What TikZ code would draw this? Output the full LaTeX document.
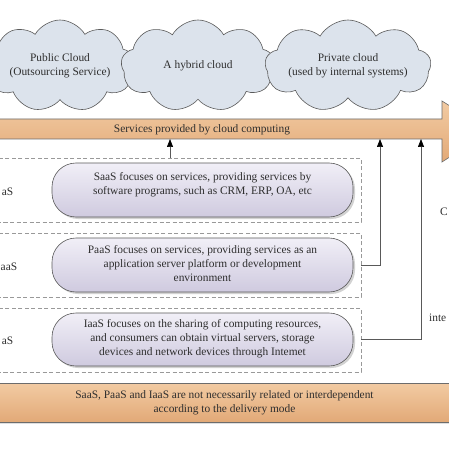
\documentclass[tikz,border=0pt]{standalone}
\usepackage{fontspec}
\setmainfont{Liberation Serif}
\usetikzlibrary{shapes.symbols,shadows,arrows.meta}
\definecolor{cloudfill}{HTML}{DCE3EC}
\definecolor{edgegray}{HTML}{5A5A5A}
\definecolor{txt}{HTML}{2E2E2E}
\definecolor{bandtop}{HTML}{F2CBA3}
\definecolor{bandbot}{HTML}{E2A977}
\definecolor{boxtop}{HTML}{F1EFF7}
\definecolor{boxbot}{HTML}{CFCADF}
\tikzset{
  cloudbox/.style={cloud, cloud puffs=9, cloud puff arc=120, cloud ignores aspect,
    draw=edgegray, line width=0.6pt, fill=cloudfill, align=center, text=txt, inner sep=0pt},
  dashbox/.style={draw=gray!80, line width=0.6pt, dash pattern=on 4pt off 2.5pt},
  svcbox/.style={draw=edgegray, line width=0.6pt, rounded corners=24pt, top color=boxtop, bottom color=boxbot,
    drop shadow={shadow xshift=2pt, shadow yshift=-2pt, opacity=0.35}},
  svctext/.style={align=center, text=txt},
  band/.style={draw=gray!85!black, line width=0.6pt, top color=bandtop, bottom color=bandbot},
  conn/.style={draw=gray!70!black, line width=0.7pt, -{Triangle[length=8pt,width=6pt,black]}},
  side/.style={text=txt, inner sep=0pt}
}
\begin{document}
\begin{tikzpicture}[x=1pt,y=-1pt,font=\fontsize{11.4}{14}\selectfont]
\useasboundingbox (0,0) rectangle (449,449);
\fill[white] (0,0) rectangle (449,449);
\clip (0,0) rectangle (449,449);
% clouds
\node[cloudbox, minimum width=150pt, minimum height=92pt] (pub) at (60,66) {Public Cloud\\(Outsourcing Service)};
\node[cloudbox, minimum width=154pt, minimum height=92pt] (hyb) at (198,66) {A hybrid cloud};
\node[cloudbox, minimum width=166pt, minimum height=92pt] (pri) at (348,66) {Private cloud\\(used by internal systems)};
% top band arrow
\draw[band] (-2,119) -- (442,119) -- (442,101) -- (490,131) -- (442,162) -- (442,139) -- (-2,139) -- cycle;
\node[text=txt] (bandtxt) at (202,129.5) {Services provided by cloud computing};
% dashed boxes
\draw[dashbox] (-4,158) rectangle (361,222);
\draw[dashbox] (-4,233) rectangle (361,297);
\draw[dashbox] (-4,308) rectangle (361,372);
\coordinate (d1top) at (170,158);
\coordinate (d2right) at (361,265);
\coordinate (d3right) at (361,339);
% service boxes
\node[svcbox, minimum width=301pt, minimum height=54pt] (saas) at (202.5,190) {};
\node[svctext] (saast) at (202.5,185) {SaaS focuses on services, providing services by\\software programs, such as CRM, ERP, OA, etc};
\node[svcbox, minimum width=301pt, minimum height=54pt] (paas) at (202.5,265) {};
\node[svctext] (paast) at (202.5,264) {PaaS focuses on services, providing services as an\\application server platform or development\\environment};
\node[svcbox, minimum width=301pt, minimum height=53pt] (iaas) at (202.5,339.5) {};
\node[svctext] (iaast) at (202.5,338.5) {IaaS focuses on the sharing of computing resources,\\and consumers can obtain virtual servers, storage\\devices and network devices through Intemet};
% connectors
\draw[conn] (d1top) -- (170,139);
\draw[conn] (d2right) -- (380,265) -- (380,139);
\draw[conn] (d3right) -- (421,339) -- (421,139);
% bottom band
\node[band, minimum width=455pt, minimum height=39pt, align=center, text=txt, inner sep=0pt,
  drop shadow={shadow xshift=0pt, shadow yshift=-2pt, opacity=0.25}] (base) at (224.5,402.5)
  {SaaS, PaaS and IaaS are not necessarily related or interdependent\\according to the delivery mode};
% cut-off side labels
\node[side, anchor=east] (l1) at (13.5,192) {aS};
\node[side, anchor=west] (l2) at (0.5,267) {aaS};
\node[side, anchor=east] (l3) at (13.5,341) {aS};
\node[side, anchor=west] (r1) at (440,212) {C};
\node[side, anchor=west] (r2) at (429,318) {inte};
\end{tikzpicture}
\end{document}
